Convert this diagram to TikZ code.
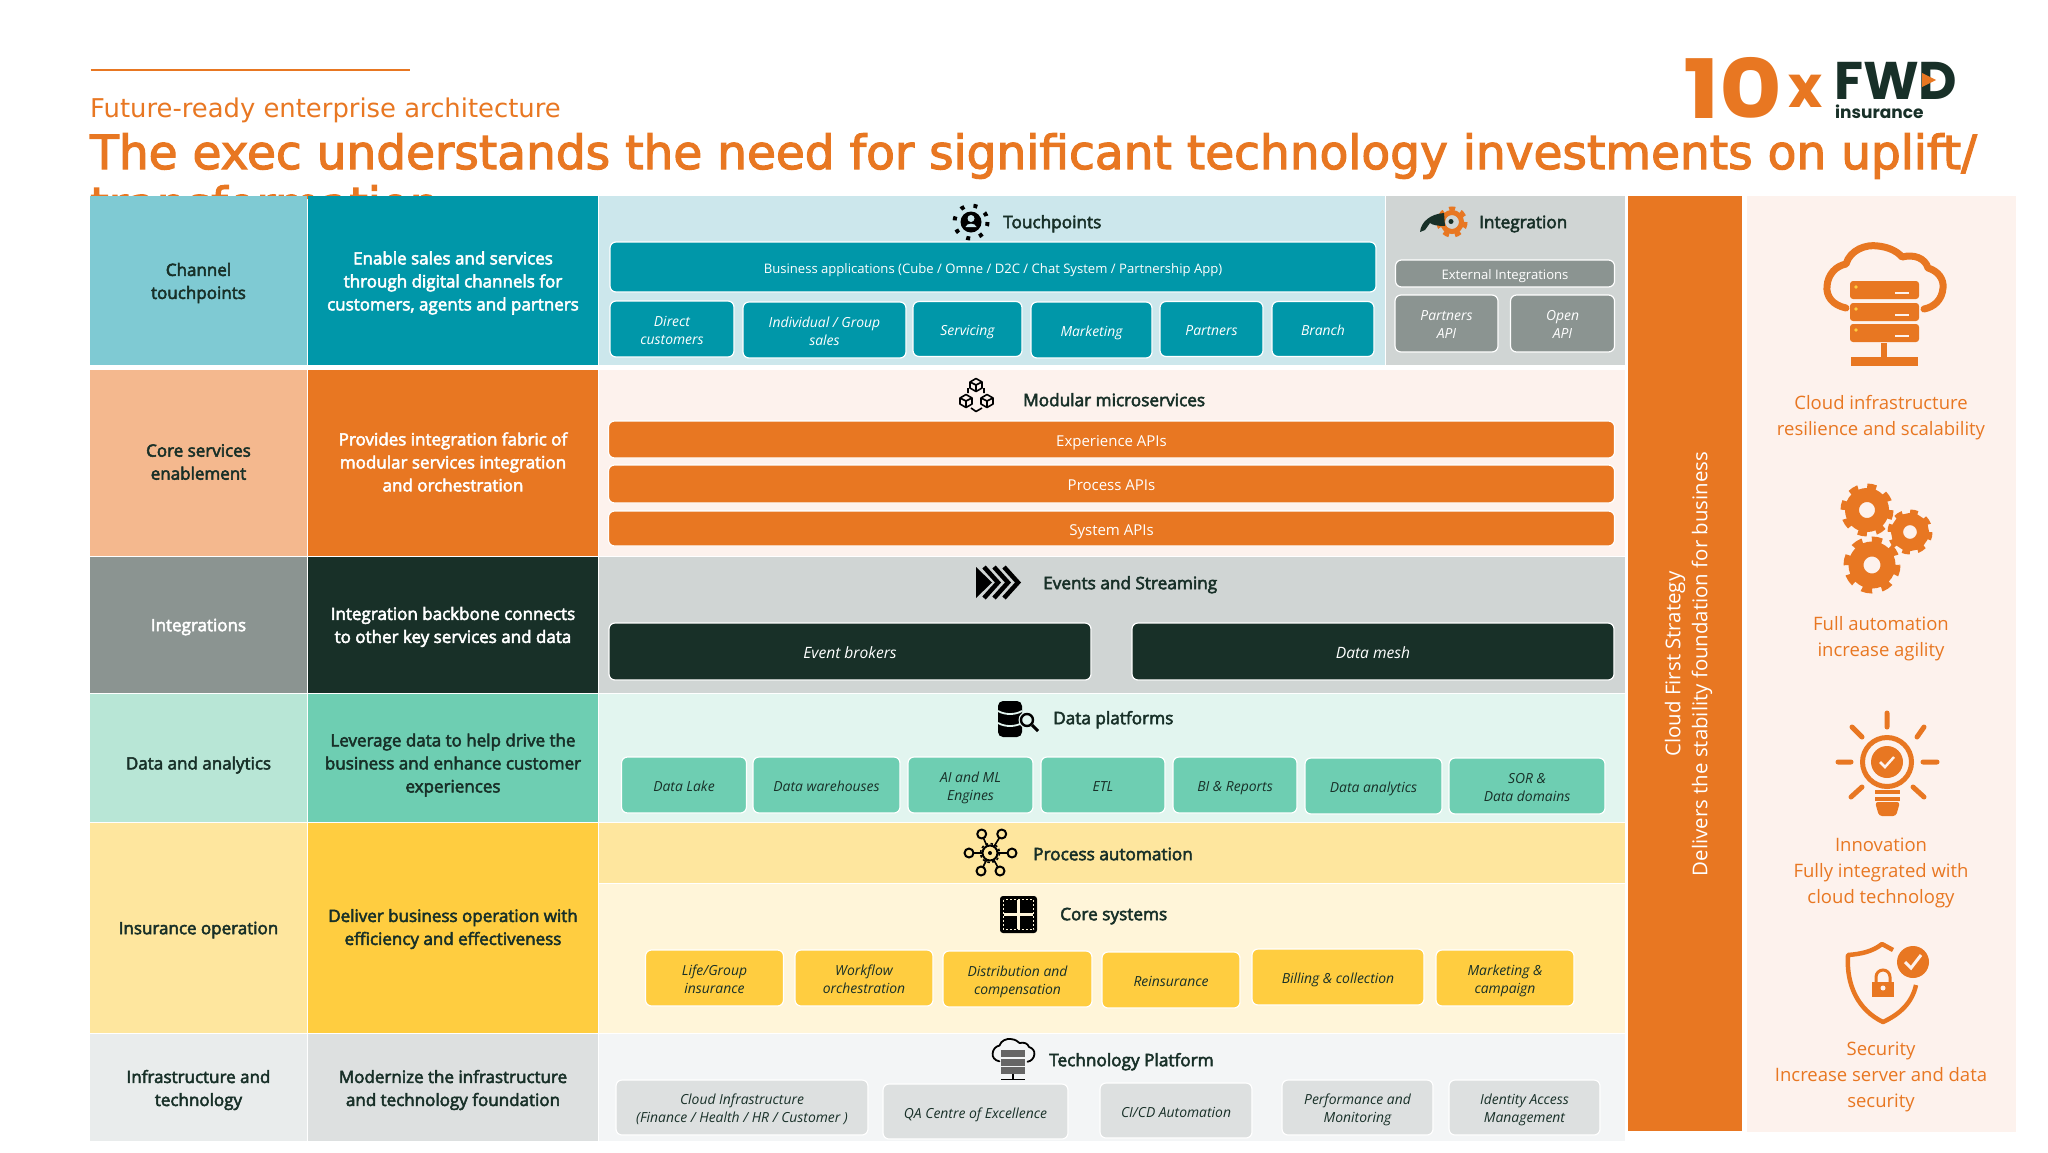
\documentclass[tikz,border=0pt]{standalone}
\usepackage{fontspec}
\setmainfont{Open Sans}
\newfontfamily\titlefont[FakeBold=2.5]{DejaVu Sans}
\newfontfamily\subtitlefont{DejaVu Sans}
\newfontfamily\semifont[FakeBold=3]{Open Sans}
\newfontfamily\logofont{Poppins}
\newfontfamily\tenfont[FakeStretch=1.18]{Poppins}
\definecolor{fwdorange}{HTML}{E87722}
\definecolor{fwdteal}{HTML}{0097A9}
\definecolor{fwddark}{HTML}{183028}
\definecolor{fwdgrey}{HTML}{8B9491}
\definecolor{fwdmint}{HTML}{6ECEB2}
\definecolor{fwdyellow}{HTML}{FFCD40}
\definecolor{lightteal}{HTML}{7FCAD3}
\definecolor{paleteal}{HTML}{CCE7EC}
\definecolor{lightorange}{HTML}{F4B88E}
\definecolor{paleorange}{HTML}{FDF2ED}
\definecolor{palegrey}{HTML}{D0D5D4}
\definecolor{lightmint}{HTML}{B8E6D6}
\definecolor{palemint}{HTML}{E2F5EF}
\definecolor{lightyellow}{HTML}{FEE69E}
\definecolor{paleyellow}{HTML}{FFF5D9}
\definecolor{softgrey}{HTML}{DDE0E0}
\definecolor{ashgrey}{HTML}{E9ECEC}
\definecolor{palesilver}{HTML}{F3F5F6}
\tikzset{
	celltext/.style={align=center,inner sep=0,text=fwddark,font=\semifont\fontsize{17}{23}\selectfont},
	headtext/.style={anchor=west,inner sep=0,text=fwddark,text height=12.4,text depth=0,font=\semifont\fontsize{17.2}{23}\selectfont},
	sidetext/.style={align=center,inner sep=0,text=fwdorange,font=\fontsize{18.5}{26}\selectfont},
	plainbox/.style={rounded corners=6,draw=white,line width=1.2,outer sep=0,inner sep=0,align=center,text=white,text height=13,text depth=0,font=\fontsize{13.1}{18}\selectfont},
	apibox/.style={plainbox,fill=fwdorange,minimum width=1006,font=\fontsize{15}{18}\selectfont},
	itbox/.style={plainbox,font=\itshape\fontsize{13.9}{18}\selectfont},
	twobox/.style={itbox,text height=30,text depth=0},
	eventbox/.style={plainbox,fill=fwddark,minimum height=57,font=\itshape\fontsize{15.6}{18}\selectfont},
	logotext/.style={anchor=base west,inner sep=0},
	iconline/.style={draw=black,line width=1.6,line join=round,fill=none}
}
\newcommand{\cloudicon}[1]{\draw[#1,line cap=round,line join=round] (1846,308) .. controls (1832,305) and (1826,296) .. (1827,286) .. controls (1828,274) and (1836,266) .. (1846,264) .. controls (1850,250) and (1866,244) .. (1878,246) .. controls (1888,247) and (1897,251) .. (1902,257) .. controls (1914,254) and (1925,258) .. (1928,268) .. controls (1938,271) and (1944,279) .. (1943,288) .. controls (1942,300) and (1934,307) .. (1924,309);}
\newcommand{\hexcube}[2]{\draw[iconline] (#1,#2-6.5) -- (#1+6,#2-3) -- (#1+6,#2+3) -- (#1,#2+6.5) -- (#1-6,#2+3) -- (#1-6,#2-3) -- cycle (#1-6,#2-3) -- (#1,#2) -- (#1+6,#2-3) (#1,#2) -- (#1,#2+6.5);}
\begin{document}
\begin{tikzpicture}[x=1pt,y=-1pt]
	\useasboundingbox (0,0) rectangle (2048,1152);
	% heading
	\draw[fwdorange,line width=1.5] (90.5,70) -- (410,70);
	\node[logotext,text=fwdorange,font=\subtitlefont\fontsize{25.85}{30}\selectfont] (subtitle) at (90,117) {Future-ready enterprise architecture};
	\node[logotext,text=fwdorange,font=\titlefont\fontsize{47}{55}\selectfont] (title) at (90,169) {The exec understands the need for significant technology investments on uplift/};
	\node[logotext,text=fwdorange,font=\titlefont\fontsize{47}{55}\selectfont] (titletwo) at (90,221) {transformation};
	% logo
	\node[logotext,text=fwdorange,font=\tenfont\bfseries\fontsize{82}{82}\selectfont] (logoten) at (1683,118) {10};
	\node[logotext,text=fwdorange,font=\logofont\bfseries\fontsize{58}{62}\selectfont] (logox) at (1788,107) {x};
	\node[logotext,text=fwddark,font=\logofont\bfseries\fontsize{53}{56}\selectfont] (logofwd) at (1834,99) {FWD};
	\node[logotext,text=fwddark,font=\logofont\bfseries\fontsize{17}{17}\selectfont] (logoins) at (1835,118) {insurance};
	\fill[fwdorange] (1922,73) -- (1936,80) -- (1922,87) -- cycle;
	% row backgrounds
	\fill[lightteal] (90,196) rectangle (307,365);
	\fill[fwdteal] (307.5,196) rectangle (598,365);
	\fill[paleteal] (599,196) rectangle (1384.5,365);
	\fill[palegrey] (1385.5,196) rectangle (1625,365);
	\fill[lightorange] (90,370) rectangle (307,556);
	\fill[fwdorange] (307.5,370) rectangle (598,556);
	\fill[paleorange] (599,370) rectangle (1625,556);
	\fill[fwdgrey] (90,557) rectangle (307,693);
	\fill[fwddark] (307.5,557) rectangle (598,693);
	\fill[palegrey] (599,557) rectangle (1625,693);
	\fill[lightmint] (90,694) rectangle (307,822);
	\fill[fwdmint] (307.5,694) rectangle (598,822);
	\fill[palemint] (599,694) rectangle (1625,822);
	\fill[lightyellow] (90,823) rectangle (307,1033);
	\fill[fwdyellow] (307.5,823) rectangle (598,1033);
	\fill[lightyellow] (599,823) rectangle (1625,883);
	\fill[paleyellow] (599,884) rectangle (1625,1033);
	\fill[ashgrey] (90,1034) rectangle (307,1141);
	\fill[softgrey] (307.5,1034) rectangle (598,1141);
	\fill[palesilver] (599,1034) rectangle (1625,1141);
	\fill[fwdorange] (1628,196) rectangle (1742,1131);
	\fill[paleorange] (1747,196) rectangle (2016,1132);
	% left columns
	\node[celltext] (chanlabel) at (198.5,283) {Channel\\touchpoints};
	\node[celltext,text=white] (chantext) at (453,283) {Enable sales and services\\through digital channels for\\customers, agents and partners};
	\node[celltext] (corelabel) at (198.5,462) {Core services\\enablement};
	\node[celltext,text=white] (coretext) at (453,462) {Provides integration fabric of\\modular services integration\\and orchestration};
	\node[celltext,text=white] (intlabel) at (198.5,627) {Integrations};
	\node[celltext,text=white] (inttext) at (453,627) {Integration backbone connects\\to other key services and data};
	\node[celltext] (datalabel) at (198.5,765) {Data and analytics};
	\node[celltext] (datatext) at (453,765) {Leverage data to help drive the\\business and enhance customer\\experiences};
	\node[celltext] (inslabel) at (198.5,930) {Insurance operation};
	\node[celltext] (instext) at (453,929) {Deliver business operation with\\efficiency and effectiveness};
	\node[celltext] (infralabel) at (198.5,1090) {Infrastructure and\\technology};
	\node[celltext] (infratext) at (453,1090) {Modernize the infrastructure\\and technology foundation};
	% touchpoints
	\node[headtext] (touchhead) at (1003,222) {Touchpoints};
	\node[plainbox,fill=fwdteal,minimum width=766,minimum height=50] (bizapps) at (993,267) {Business applications (Cube / Omne / D2C / Chat System / Partnership App)};
	\node[twobox,fill=fwdteal,minimum width=124,minimum height=56] (direct) at (672,329) {Direct\\customers};
	\node[twobox,fill=fwdteal,minimum width=163,minimum height=56] (indiv) at (824.5,330) {Individual / Group\\sales};
	\node[itbox,fill=fwdteal,minimum width=109,minimum height=55] (servicing) at (967.5,329) {Servicing};
	\node[itbox,fill=fwdteal,minimum width=121,minimum height=56] (marketing) at (1091.5,330) {Marketing};
	\node[itbox,fill=fwdteal,minimum width=103,minimum height=55] (partners) at (1211.5,329) {Partners};
	\node[itbox,fill=fwdteal,minimum width=102,minimum height=55] (branch) at (1323,329) {Branch};
	% integration
	\node[headtext] (integhead) at (1479,222) {Integration};
	\node[plainbox,fill=fwdgrey,text height=11,minimum width=219,minimum height=27] (external) at (1505,273.5) {External Integrations};
	\node[twobox,fill=fwdgrey,minimum width=103,minimum height=57] (partnerapi) at (1446.5,323.5) {Partners\\API};
	\node[twobox,fill=fwdgrey,minimum width=104,minimum height=57] (openapi) at (1562.5,323.5) {Open\\API};
	% microservices
	\node[headtext] (microhead) at (1023,400) {Modular microservices};
	\node[apibox,minimum height=37] (expapi) at (1111.5,439.5) {Experience APIs};
	\node[apibox,minimum height=38] (procapi) at (1111.5,484) {Process APIs};
	\node[apibox,minimum height=35] (sysapi) at (1111.5,528.5) {System APIs};
	% events
	\node[headtext] (eventhead) at (1043,583) {Events and Streaming};
	\node[eventbox,minimum width=482] (brokers) at (850,651.5) {Event brokers};
	\node[eventbox,minimum width=482] (mesh) at (1373,651.5) {Data mesh};
	% data platforms
	\node[headtext] (datahead) at (1053,718) {Data platforms};
	\node[itbox,text=fwddark,fill=fwdmint,minimum width=125,minimum height=56] (lake) at (684,785) {Data Lake};
	\node[itbox,text=fwddark,fill=fwdmint,minimum width=147,minimum height=56] (warehouses) at (826.5,785) {Data warehouses};
	\node[twobox,text=fwddark,fill=fwdmint,minimum width=125,minimum height=56] (aiml) at (970.5,785) {AI and ML\\Engines};
	\node[itbox,text=fwddark,fill=fwdmint,minimum width=124,minimum height=56] (etl) at (1103,785) {ETL};
	\node[itbox,text=fwddark,fill=fwdmint,minimum width=124,minimum height=56] (reports) at (1235,785) {BI \& Reports};
	\node[itbox,text=fwddark,fill=fwdmint,minimum width=137,minimum height=56] (analytics) at (1373.5,786) {Data analytics};
	\node[twobox,text=fwddark,fill=fwdmint,minimum width=156,minimum height=56] (domains) at (1527,786) {SOR \&\\Data domains};
	% process automation and core systems
	\node[headtext] (prochead) at (1033,854) {Process automation};
	\node[headtext] (corehead) at (1060,914) {Core systems};
	\node[twobox,text=fwddark,fill=fwdyellow,minimum width=138,minimum height=56] (lifegroup) at (714.5,978) {Life/Group\\insurance};
	\node[twobox,text=fwddark,fill=fwdyellow,minimum width=138,minimum height=56] (workflow) at (864,978) {Workflow\\orchestration};
	\node[twobox,text=fwddark,fill=fwdyellow,minimum width=149,minimum height=56] (distribution) at (1017.5,979) {Distribution and\\compensation};
	\node[itbox,text=fwddark,fill=fwdyellow,minimum width=138,minimum height=56] (reinsurance) at (1171,980) {Reinsurance};
	\node[itbox,text=fwddark,fill=fwdyellow,minimum width=172,minimum height=56] (billing) at (1338,977) {Billing \& collection};
	\node[twobox,text=fwddark,fill=fwdyellow,minimum width=138,minimum height=56] (campaign) at (1505,978) {Marketing \&\\campaign};
	% technology platform
	\node[headtext] (techhead) at (1049,1060) {Technology Platform};
	\node[twobox,text=fwddark,fill=softgrey,minimum width=252,minimum height=55] (cloudinfra) at (742,1107.5) {Cloud Infrastructure\\(Finance / Health / HR / Customer )};
	\node[itbox,text=fwddark,fill=softgrey,minimum width=185,minimum height=55] (qacentre) at (975.5,1111.5) {QA Centre of Excellence};
	\node[itbox,text=fwddark,fill=softgrey,minimum width=152,minimum height=55] (cicd) at (1176,1110.5) {CI/CD Automation};
	\node[twobox,text=fwddark,fill=softgrey,minimum width=151,minimum height=55] (perf) at (1357.5,1107.5) {Performance and\\Monitoring};
	\node[twobox,text=fwddark,fill=softgrey,minimum width=151,minimum height=55] (identity) at (1524.5,1107.5) {Identity Access\\Management};
	% orange bar
	\node[rotate=90,align=center,inner sep=0,text=white,font=\fontsize{20.4}{27}\selectfont] (strategy) at (1688.5,664) {Cloud First Strategy\\Delivers the stability foundation for business};
	% right column
	\node[sidetext] (sidecloud) at (1881,417.5) {Cloud infrastructure\\resilience and scalability};
	\node[sidetext] (sideauto) at (1881,638.5) {Full automation\\increase agility};
	\node[sidetext] (sideinno) at (1881,872.5) {Innovation\\Fully integrated with\\cloud technology};
	\node[sidetext] (sidesec) at (1881,1076.5) {Security\\Increase server and data\\security};
	% touchpoints icon
	\draw[black,line width=4,dash pattern=on 4 off 9.35] (971,222) circle (16.5);
	\fill[black] (971,222) circle (10.5);
	\fill[paleteal] (971,218.5) circle (3.5);
	\fill[paleteal] (965.5,227) .. controls (967,222.5) and (975,222.5) .. (976.5,227) -- cycle;
	% integration icon
	\draw[fwdorange,line width=5] (1452,222) circle (9.5);
	\draw[fwdorange,line width=4,dash pattern=on 6 off 6.1] (1452,222) circle (13.5);
	\fill[fwddark] (1451,221.5) circle (2.5);
	\fill[fwddark] (1420,232) .. controls (1421,222) and (1430,214) .. (1444,213) -- (1445,226) .. controls (1438,226) and (1432,225) .. (1430,223) -- (1425,230) -- cycle;
	% microservices icon
	\hexcube{976}{385}
	\hexcube{966}{401}
	\hexcube{987}{401}
	\draw[iconline] (968,393) -- (968,388) (984,393) -- (984,388) (971,408) -- (976,411.5) -- (982,408);
	% events icon
	\fill[black] (976,567) -- (992,582.5) -- (976,598) -- cycle;
	\draw[black,line width=4.5] (984,567) -- (998,582.5) -- (984,598);
	\draw[black,line width=4.5] (994,567) -- (1008,582.5) -- (994,598);
	\draw[black,line width=4.5] (1004,567) -- (1018,582.5) -- (1004,598);
	% data platforms icon
	\fill[black,rounded corners=5] (998,701) rectangle (1022,737);
	\draw[palemint,line width=1.8] (998,711) .. controls (1005,715) and (1015,715) .. (1022,711);
	\draw[palemint,line width=1.8] (998,723) .. controls (1005,727) and (1015,727) .. (1022,723);
	\fill[palemint] (1027,720) circle (8.5);
	\draw[black,line width=2.4] (1027,720) circle (6);
	\draw[black,line width=3] (1032,725) -- (1038,731);
	% process automation icon
	\draw[iconline] (990,853) -- (981.7,834) (990,853) -- (1001.7,834) (990,853) -- (969,853) (990,853) -- (1012,853) (990,853) -- (981,871) (990,853) -- (1000,871);
	\draw[iconline,fill=lightyellow,line width=2] (981.7,834) circle (4.5) (1001.7,834) circle (4.5) (969,853) circle (4.5) (1012,853) circle (4.5) (981,871) circle (4.5) (1000,871) circle (4.5);
	\draw[iconline,fill=lightyellow,line width=2] (990,853) circle (7.5);
	\draw[black,line width=1.6,dash pattern=on 2.5 off 2.5] (990,853) circle (9.5);
	\fill[black] (990,853) circle (2);
	% core systems icon
	\fill[black,rounded corners=3] (1000,896) rectangle (1037,933);
	\draw[paleyellow,line width=1.4,dash pattern=on 2 off 2] (1003.5,899.5) rectangle (1033.5,929.5);
	\draw[paleyellow,line width=2.2] (1018.5,900) -- (1018.5,929) (1004,914.5) -- (1033,914.5);
	% technology platform icon
	\begin{scope}[shift={(334.9,950.5)},scale=0.36]
		\cloudicon{black,line width=1.8}
	\end{scope}
	\fill[black!60] (1001,1050) rectangle (1025,1057);
	\fill[black!60] (1001,1058.5) rectangle (1025,1065.5);
	\fill[black!60] (1001,1067) rectangle (1025,1074);
	\draw[black,line width=1.8] (1013,1074) -- (1013,1079) (1001,1079.5) -- (1025,1079.5);
	% side icons
	\cloudicon{fwdorange,line width=7}
	\fill[fwdorange,rounded corners=3] (1850,281) rectangle (1919,299);
	\fill[fwdorange,rounded corners=3] (1850,303) rectangle (1919,321);
	\fill[fwdorange,rounded corners=3] (1850,324) rectangle (1919,342);
	\draw[paleorange,line width=2.5] (1895,293) -- (1909,293) (1895,315) -- (1909,315) (1895,336) -- (1909,336);
	\fill[fwdyellow] (1856,287) circle (1.8) (1856,309) circle (1.8) (1856,330) circle (1.8);
	\fill[fwdorange] (1881,343) rectangle (1887,358);
	\fill[fwdorange] (1851,357) rectangle (1918,366);
	\draw[fwdorange,line width=14] (1867,510) circle (15);
	\draw[fwdorange,line width=7,dash pattern=on 9 off 9.06] (1867,510) circle (23);
	\draw[fwdorange,line width=12] (1910,532) circle (13);
	\draw[fwdorange,line width=6,dash pattern=on 7.6 off 7.7] (1910,532) circle (19.5);
	\draw[fwdorange,line width=15] (1872,565) circle (16);
	\draw[fwdorange,line width=7,dash pattern=on 10 off 9.6] (1872,565) circle (25);
	\draw[fwdorange,line width=5] (1887,762) circle (24.5);
	\fill[fwdorange] (1887,762) circle (16);
	\draw[paleorange,line width=2.5] (1880,762) -- (1885,767) -- (1894,757);
	\draw[fwdorange,line width=4] (1875,792) -- (1900,792) (1875,799) -- (1900,799);
	\fill[fwdorange,rounded corners=3] (1875,802) -- (1900,802) -- (1896,816) -- (1879,816) -- cycle;
	\draw[fwdorange,line width=5,line cap=round] (1887,713) -- (1887,727) (1917,737) -- (1924,727) (1852,727) -- (1862,737) (1838,762) -- (1851,762) (1923,762) -- (1937,762) (1851,797) -- (1862,787) (1913,787) -- (1924,797);
	\draw[fwdorange,line width=4.5,line join=round] (1893,950) -- (1882,944) .. controls (1872,952) and (1860,954) .. (1848,955) .. controls (1846,985) and (1858,1010) .. (1883,1022) .. controls (1900,1014) and (1912,1003) .. (1916,985);
	\fill[fwdorange] (1913,962) circle (16);
	\draw[paleorange,line width=3] (1905,962) -- (1911,968) -- (1921,955);
	\fill[fwdorange] (1872,982) rectangle (1894,997);
	\draw[fwdorange,line width=3] (1876,982) -- (1876,977) arc (180:360:7) -- (1890,982);
	\fill[paleorange] (1883,988) circle (2.5);
\end{tikzpicture}
\end{document}
